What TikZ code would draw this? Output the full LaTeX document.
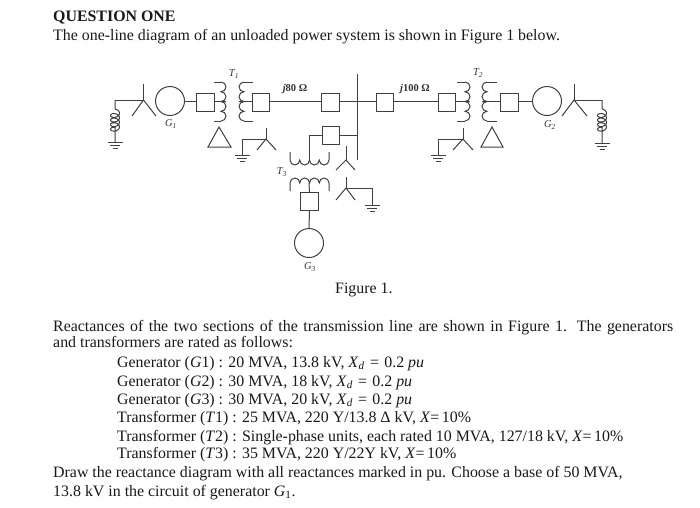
\documentclass[tikz,border=0pt]{standalone}
\usepackage{fontspec}
\setmainfont{Liberation Serif}
\newcommand{\coilR}[2]{\draw[wire] (#1,#2) arc[start angle=90,end angle=-90,x radius=5pt,y radius=4.875pt] arc[start angle=90,end angle=-90,x radius=5pt,y radius=4.875pt] arc[start angle=90,end angle=-90,x radius=5pt,y radius=4.875pt] arc[start angle=90,end angle=-90,x radius=5pt,y radius=4.875pt];}
\newcommand{\coilL}[2]{\draw[wire] (#1,#2) arc[start angle=90,end angle=270,x radius=5pt,y radius=4.875pt] arc[start angle=90,end angle=270,x radius=5pt,y radius=4.875pt] arc[start angle=90,end angle=270,x radius=5pt,y radius=4.875pt] arc[start angle=90,end angle=270,x radius=5pt,y radius=4.875pt];}
\newcommand{\starsym}[7]{%
  \coordinate (#1) at (#2,#3);
  \draw[wire] (#1) -- (#2,#3-#4);
  \draw[wire] (#5,#6) -- (#1) -- (#7,#6);}
\newcommand{\gnd}[3]{%
  \coordinate (#1) at (#2,#3);
  \draw[wire] (#2-7.5,#3) -- (#2+7.5,#3);
  \draw[wire] (#2-5,#3+3) -- (#2+5,#3+3);
  \draw[wire] (#2-2.5,#3+6) -- (#2+2.5,#3+6);}
\newcommand{\neutral}[4]{%
  \draw[wire] (#1) -- (#2,#3)
    plot[smooth,domain=0:1440,samples=65] ({#2+4.5*sin(\x)},{#3+\x/360*4.6+3-3*cos(\x)})
    -- (#4);}
\tikzset{
  wire/.style={draw=black!75,line width=1pt},
  swbox/.style={draw=black!75,line width=1pt,minimum width=17.5pt,minimum height=18pt,inner sep=0pt,rectangle},
  gen/.style={draw=black!75,line width=1pt,circle,minimum size=29pt,inner sep=0pt},
  lab/.style={inner sep=0pt,font=\fontsize{10.5}{12}\selectfont\itshape,text=black!80},
  txt/.style={inner sep=0pt,anchor=base west,font=\fontsize{15.9}{18}\selectfont,text=black!90},
}
\begin{document}
\begin{tikzpicture}[x=1pt,y=-1pt]
\useasboundingbox (0,0) rectangle (700,507);
\fill[white] (0,0) rectangle (700,507);
\node[gen] (G1) at (170,101) {};
\node[gen] (G2) at (547,101) {};
\node[gen] (G3) at (309,243) {};
\node[swbox] (B1) at (205.5,102) {};
\node[swbox] (B2) at (261,102) {};
\node[swbox] (B3) at (330.5,102) {};
\node[swbox] (B4) at (385,102) {};
\node[swbox] (B5) at (447,102) {};
\node[swbox] (B6) at (509.5,102) {};
\node[swbox] (B7) at (331,135) {};
\node[swbox] (B8) at (309.5,201) {};
\coordinate (busT) at (357,74);
\coordinate (busB) at (357,160);
\coordinate (busA) at (357,101);
\coordinate (busC) at (357,135);
\draw[wire] (busT) -- (busB);
\coordinate (T1p) at (226,101);
\coordinate (T1s) at (239,101);
\coordinate (T1pT) at (214,82);
\coordinate (T1pB) at (214,121);
\draw[wire] (T1pT) -- (221,82); \coilR{221}{82}; \draw[wire] (221,121) -- (T1pB);
\draw[wire] (253,82) -- (244,82); \coilL{244}{82}; \draw[wire] (244,121) -- (253,121);
\draw[wire] (457,82) -- (465,82); \coilR{465}{82}; \draw[wire] (465,121) -- (457,121);
\draw[wire] (497,82) -- (487,82); \coilL{487}{82}; \draw[wire] (487,121) -- (497,121);
\coordinate (T2p) at (470,101);
\coordinate (T2s) at (482,101);
\draw[wire] (G1.east |- 0,101) -- (B1.west |- 0,101);
\draw[wire] (B1.east |- 0,101) -- (T1p);
\draw[wire] (T1s) -- (B2.west |- 0,101);
\draw[wire] (B2.east |- 0,101) -- (B3.west |- 0,101);
\draw[wire] (B3.east |- 0,101) -- (B4.west |- 0,101);
\draw[wire] (B4.east |- 0,101) -- (B5.west |- 0,101);
\draw[wire] (B5.east |- 0,101) -- (T2p);
\draw[wire] (T2s) -- (B6.west |- 0,101);
\draw[wire] (B6.east |- 0,101) -- (G2.west |- 0,101);
\draw[wire] (B7.east |- 0,135) -- (busC);
\coordinate (T3u) at (309,160);
\coordinate (T3l) at (309,183);
\draw[wire] (B7.west |- 0,135) -| (T3u);
\draw[wire] (290,152) -- (290,160)
  arc[start angle=180,end angle=360,x radius=4.875pt,y radius=5pt]
  arc[start angle=180,end angle=360,x radius=4.875pt,y radius=5pt]
  arc[start angle=180,end angle=360,x radius=4.875pt,y radius=5pt]
  arc[start angle=180,end angle=360,x radius=4.875pt,y radius=5pt] -- (329,152);
\draw[wire] (290,191) -- (290,183)
  arc[start angle=180,end angle=0,x radius=4.875pt,y radius=5pt]
  arc[start angle=180,end angle=0,x radius=4.875pt,y radius=5pt]
  arc[start angle=180,end angle=0,x radius=4.875pt,y radius=5pt]
  arc[start angle=180,end angle=0,x radius=4.875pt,y radius=5pt] -- (329,191);
\draw[wire] (T3l) -- (B8.north |- 0,192);
\draw[wire] (B8.south) -- (G3.north);
\draw[wire] (219,127) -- (208,147) -- (231,147) -- cycle;
\draw[wire] (492,127) -- (481,147) -- (503,147) -- cycle;
\starsym{S1}{143.5}{100}{16}{132}{116}{156}
\starsym{S2}{574}{100}{16}{562}{116}{587}
\starsym{ST1}{266}{139}{11}{257}{150}{276}
\starsym{ST2}{463}{139}{11}{453}{150}{473}
\starsym{ST3a}{346}{160}{14}{336}{170}{355}
\starsym{ST3b}{346}{188}{11}{336}{200}{355}
\gnd{E1}{115}{142}
\gnd{E2}{602}{143}
\gnd{E3}{242}{155}
\gnd{E4}{438}{155}
\gnd{E5}{372}{205}
\coordinate (N1) at (115,100);
\coordinate (N2) at (602,100);
\draw[wire] (S1) -- (N1);
\draw[wire] (S2) -- (N2);
\neutral{N1}{115}{109}{E1}
\neutral{N2}{602}{109}{E2}
\draw[wire] (ST1) -| (E3);
\draw[wire] (ST2) -| (E4);
\draw[wire] (ST3b) -| (E5);
\node[lab] (lT1) at (234,74) {T\textsubscript{1}};
\node[lab] (lT2) at (478,73) {T\textsubscript{2}};
\node[lab] (lT3) at (282,172) {T\textsubscript{3}};
\node[lab] (lG1) at (171,124) {G\textsubscript{1}};
\node[lab] (lG2) at (550,125) {G\textsubscript{2}};
\node[lab] (lG3) at (310,267) {G\textsubscript{3}};
\node[lab,font=\fontsize{10.5}{12}\selectfont\bfseries] (l80) at (295,89) {\textit{j}80 Ω};
\node[lab,font=\fontsize{10.5}{12}\selectfont\bfseries] (l100) at (415,89) {\textit{j}100 Ω};
\node[txt] (t1) at (53,21) {\textbf{QUESTION ONE}};
\node[txt] (t2) at (53,40) {The one-line diagram of an unloaded power system is shown in Figure 1 below.};
\node[txt] (t3) at (335,293) {Figure 1.};
\node[txt] (t4) at (53,331) {\makebox[620pt][s]{Reactances of the two sections of the transmission line are shown in Figure 1. The generators}};
\node[txt] (t5) at (53,347) {and transformers are rated as follows:};
\node[txt] (t6) at (117,367) {Generator (\textit{G}1) : 20 MVA, 13.8 kV, \textit{X}\textsubscript{\textit{d}}\,\,=\,\,0.2 \textit{pu}};
\node[txt] (t7) at (117,386) {Generator (\textit{G}2) : 30 MVA, 18 kV, \textit{X}\textsubscript{\textit{d}}\,\,=\,\,0.2 \textit{pu}};
\node[txt] (t8) at (117,404) {Generator (\textit{G}3) : 30 MVA, 20 kV, \textit{X}\textsubscript{\textit{d}}\,\,=\,\,0.2 \textit{pu}};
\node[txt] (t9) at (117,422) {Transformer (\textit{T}1) : 25 MVA, 220 Y/13.8 Δ kV, \textit{X}=\,10\%};
\node[txt] (t10) at (117,441) {Transformer (\textit{T}2) : Single-phase units, each rated 10 MVA, 127/18 kV, \textit{X}=\,10\%};
\node[txt] (t11) at (117,458) {Transformer (\textit{T}3) : 35 MVA, 220 Y/22Y kV, \textit{X}=\,10\%};
\node[txt] (t12) at (53,477) {Draw the reactance diagram with all reactances marked in pu. Choose a base of 50 MVA,};
\node[txt] (t13) at (53,496) {13.8 kV in the circuit of generator \textit{G}\textsubscript{1}.};
\end{tikzpicture}
\end{document}
